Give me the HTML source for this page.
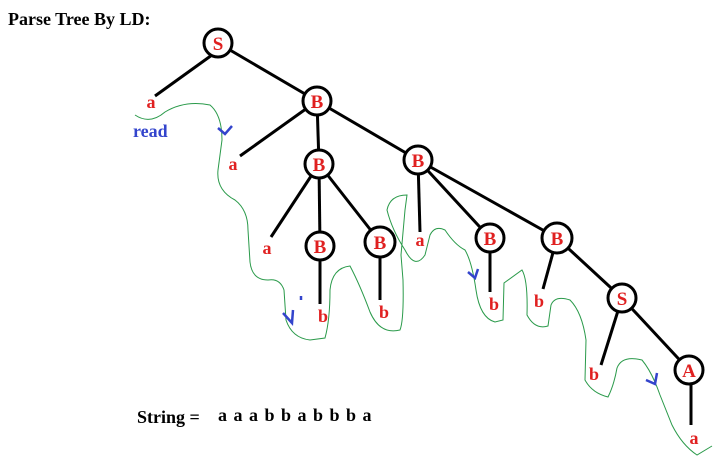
<!DOCTYPE html>
<html><head><meta charset="utf-8"><style>
html,body{margin:0;padding:0;background:#fff;}
svg{display:block;}
.n{fill:#fff;stroke:#000;stroke-width:3;}
.t{font-family:"Liberation Serif",serif;font-weight:bold;fill:#e02020;font-size:19px;text-anchor:middle;}
.l{font-family:"Liberation Serif",serif;font-weight:bold;fill:#e02020;font-size:18px;text-anchor:middle;}
</style></head><body>
<svg width="720" height="470" viewBox="0 0 720 470">
<text x="8" y="25" font-family="Liberation Serif,serif" font-weight="bold" font-size="18">Parse Tree By LD:</text>
<g stroke="#000" stroke-width="3" fill="none">
<line x1="212" y1="55" x2="155" y2="96"/>
<line x1="218" y1="43" x2="317" y2="101"/>
<line x1="317" y1="101" x2="240" y2="156"/>
<line x1="317" y1="101" x2="319" y2="164"/>
<line x1="317" y1="101" x2="418" y2="160"/>
<line x1="319" y1="164" x2="271" y2="237"/>
<line x1="319" y1="164" x2="320" y2="246"/>
<line x1="319" y1="164" x2="380" y2="242"/>
<line x1="418" y1="160" x2="420" y2="232"/>
<line x1="418" y1="160" x2="490" y2="238"/>
<line x1="418" y1="160" x2="557" y2="238"/>
<line x1="320" y1="246" x2="320" y2="304"/>
<line x1="380" y1="242" x2="380" y2="300"/>
<line x1="490" y1="238" x2="490" y2="292"/>
<line x1="557" y1="238" x2="543" y2="289"/>
<line x1="557" y1="238" x2="622" y2="298"/>
<line x1="622" y1="298" x2="601" y2="365"/>
<line x1="622" y1="298" x2="689" y2="370"/>
<line x1="691" y1="370" x2="691" y2="425"/>
</g>
<path fill="none" stroke="#2a9a4a" stroke-width="1" d="M135,115 Q150,125 165,112 Q185,100 210,105 Q222,115 222,140 L218,170 Q216,190 235,200 Q248,210 248,230 L250,262 Q252,280 268,280 Q280,278 284,290 L286,320 Q292,338 310,340 L325,338 Q330,320 330,290 Q332,268 350,266 Q360,285 370,312 Q380,335 400,330 Q404,320 403,280 L401,255 L405,210 L407,195 Q390,195 387,210 Q392,230 405,250 Q415,270 425,255 L430,235 Q435,225 445,230 Q455,245 465,250 Q472,262 476,290 Q480,318 495,322 L503,320 L504,283 L522,270 Q528,280 527,315 Q535,330 548,326 L551,305 Q555,295 570,300 Q582,312 586,340 L585,380 Q592,393 608,397 Q614,385 617,368 Q622,355 642,360 Q652,372 660,395 L672,425 Q682,445 697,455 L712,446"/>
<g stroke="#3344cc" stroke-width="2.5" fill="none">
<path d="M218,128 L225,134 L232,126"/>
<path d="M283,313 L292,323 L293,310"/>
<path d="M468,272 L475,278 L478,269"/>
<path d="M646,380 L655,384 L657,373"/>
<line x1="301" y1="296" x2="301" y2="300"/>
</g>
<g>
<circle class="n" cx="218" cy="43" r="14"/><text class="t" x="218" y="50">S</text>
<circle class="n" cx="317" cy="101" r="14"/><text class="t" x="317" y="108">B</text>
<circle class="n" cx="319" cy="164" r="14"/><text class="t" x="319" y="171">B</text>
<circle class="n" cx="418" cy="160" r="14"/><text class="t" x="418" y="167">B</text>
<circle class="n" cx="320" cy="246" r="14"/><text class="t" x="320" y="253">B</text>
<circle class="n" cx="380" cy="242" r="15"/><text class="t" x="380" y="249">B</text>
<circle class="n" cx="490" cy="238" r="14"/><text class="t" x="490" y="245">B</text>
<circle class="n" cx="557" cy="238" r="15"/><text class="t" x="557" y="245">B</text>
<circle class="n" cx="622" cy="298" r="14"/><text class="t" x="622" y="305">S</text>
<circle class="n" cx="689" cy="370" r="14"/><text class="t" x="689" y="377">A</text>
</g>
<g>
<text class="l" x="151" y="108">a</text>
<text class="l" x="233" y="170">a</text>
<text class="l" x="267" y="254">a</text>
<text class="l" x="323" y="322">b</text>
<text class="l" x="384" y="318">b</text>
<text class="l" x="420" y="246">a</text>
<text class="l" x="494" y="310">b</text>
<text class="l" x="539" y="307">b</text>
<text class="l" x="594" y="380">b</text>
<text class="l" x="694" y="444">a</text>
</g>
<text x="133" y="137" font-family="Liberation Serif,serif" font-weight="bold" font-size="18" fill="#3344cc">read</text>
<text x="137" y="423" font-family="Liberation Serif,serif" font-weight="bold" font-size="18">String =</text>
<text x="218" y="421" font-family="Liberation Serif,serif" font-weight="bold" font-size="18" word-spacing="2">a a a b b a b b b a</text>
</svg>
</body></html>
